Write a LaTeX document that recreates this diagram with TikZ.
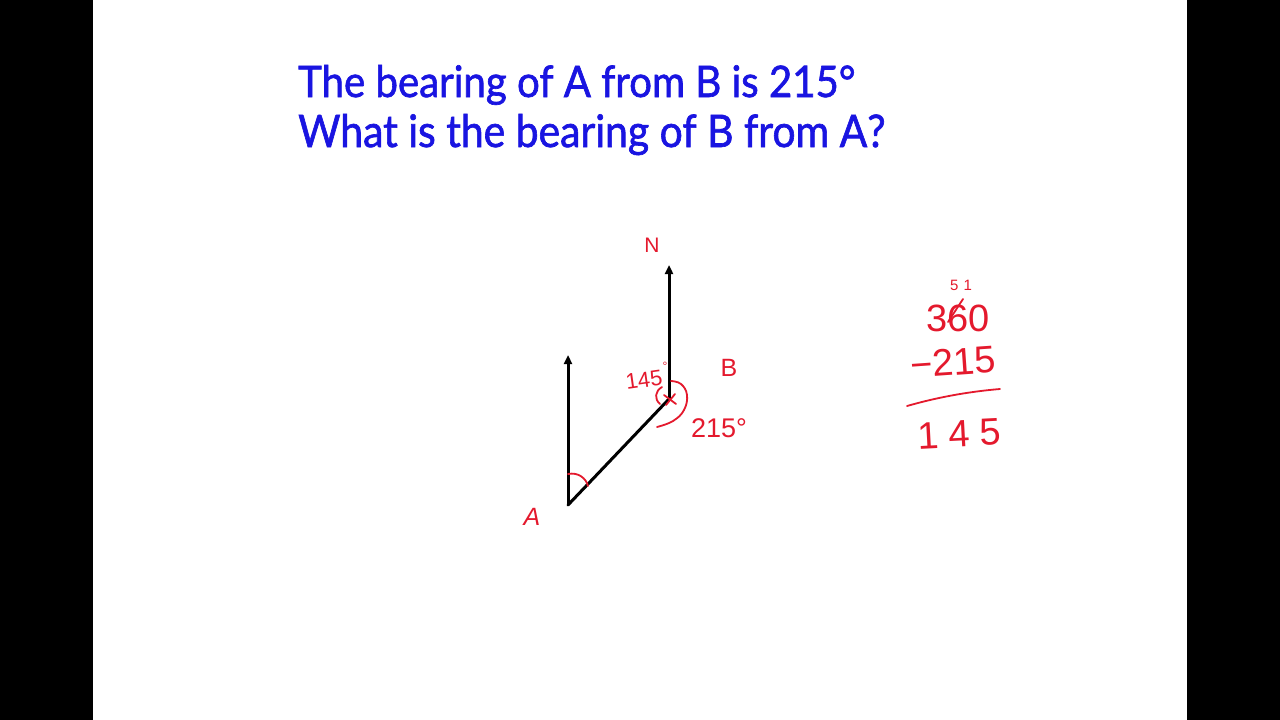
\documentclass[tikz,border=0pt]{standalone}
\usepackage{fontspec}
\setmainfont[FakeBold=1.5]{Lato}
\newfontfamily\hand{Liberation Sans}
\usetikzlibrary{arrows.meta}
\definecolor{titleblue}{RGB}{25,20,225}
\definecolor{inkred}{RGB}{228,25,45}
\tikzset{
  title/.style={anchor=base west, inner sep=0pt, text=titleblue},
  bar/.style={fill=black, draw=none},
  vec/.style={line width=3pt, -{Triangle[width=8pt,length=9pt]}},
  seg/.style={line width=3pt, line cap=round},
  ink/.style={draw=inkred, line width=1.8pt, line cap=round, line join=round},
  lbl/.style={inner sep=0pt, text=inkred, font=\hand},
}
\begin{document}
\begin{tikzpicture}[x=1pt,y=-1pt]
\useasboundingbox (0,0) rectangle (1280,720);
\fill[white] (0,0) rectangle (1280,720);
\fill[bar] (0,0) rectangle (93,720);
\fill[bar] (1187,0) rectangle (1280,720);

% title
\node[title] (t1) at (298,97) {\resizebox{557pt}{32pt}{The bearing of A from B is 215°}};
\node[title] (t2) at (298,147) {\resizebox{587pt}{33pt}{What is the bearing of B from A?}};

% points
\coordinate (A) at (568,505);
\coordinate (B) at (669,399);
\coordinate (An) at (568,355);
\coordinate (Bn) at (669,265);

\draw[vec] (A) -- (An);
\draw[vec] (B) -- (Bn);
\draw[seg] (A) -- (B);

% angle at A
\draw[ink] (568,474) .. controls (578,472) and (586,478) .. (588,486);

% angle arcs at B
\draw[ink] plot[smooth, tension=0.7] coordinates {(671,381) (681,384) (687,395) (684,410) (673,421) (657,427)};
\draw[ink] (662,387) .. controls (655,391) and (654,399) .. (660,404);
\draw[ink] (664,395) -- (676,404);
\draw[ink] (666,405) -- (675,394);

% labels
\node[lbl, font=\hand\fontsize{21}{21}\selectfont] (N) at (652,245) {N};
\node[lbl, font=\hand\itshape\fontsize{25}{25}\selectfont] (Alab) at (532,517) {A};
\node[lbl, font=\hand\fontsize{25}{25}\selectfont] (Blab) at (729,368) {B};
\node[lbl, font=\hand\fontsize{22}{22}\selectfont, rotate=8] (a145) at (644,380) {145};
\node[lbl, font=\hand\fontsize{12}{12}\selectfont] (deg145) at (665,366) {°};
\node[lbl, font=\hand\fontsize{27}{27}\selectfont] (a215) at (719,428) {215°};

% subtraction
\node[lbl, font=\hand\fontsize{15}{15}\selectfont] (borrow) at (961,285) {5\hspace{5pt}1};
\node[lbl, font=\hand\fontsize{38}{38}\selectfont] (n360) at (958,318) {360};
\draw[ink] (948,322) -- (963,299);
\node[lbl, font=\hand\fontsize{38}{38}\selectfont, rotate=4] (n215) at (953,362) {−215};
\draw[ink] (907,406) .. controls (935,398) and (965,392) .. (1000,389);
\node[lbl, font=\hand\fontsize{38}{38}\selectfont, rotate=3] (n145) at (959,434) {1\hspace{10pt}4\hspace{10pt}5};
\end{tikzpicture}
\end{document}
